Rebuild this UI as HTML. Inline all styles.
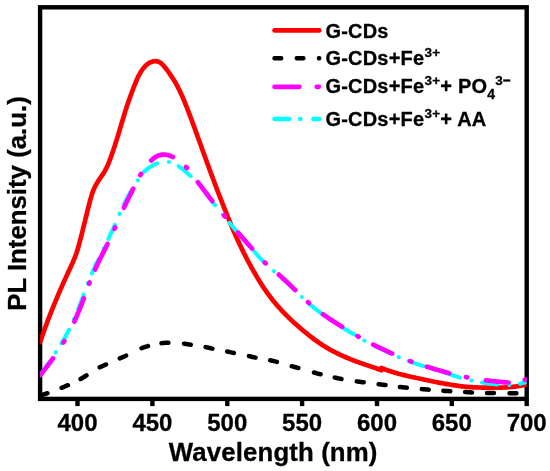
<!DOCTYPE html>
<html><head><meta charset="utf-8"><title>PL spectra</title>
<style>
html,body{margin:0;padding:0;background:#fff;}
body{width:550px;height:471px;overflow:hidden;}
svg{display:block;}
text{font-family:"Liberation Sans",Arial,sans-serif;font-weight:bold;fill:#000;stroke:#000;stroke-width:0.3;}
</style></head><body>
<svg width="550" height="471" viewBox="0 0 550 471">
<defs><clipPath id="plot"><rect x="40.1" y="7.3" width="486.6" height="391.59999999999997"/></clipPath></defs>
<rect width="550" height="471" fill="#fff"/>
<g stroke="#000" stroke-width="4.4" fill="none">
<rect x="40.1" y="7.3" width="486.6" height="391.59999999999997"/>
<line x1="77.5" y1="398.9" x2="77.5" y2="406.1"/>
<line x1="152.4" y1="398.9" x2="152.4" y2="406.1"/>
<line x1="227.3" y1="398.9" x2="227.3" y2="406.1"/>
<line x1="302.1" y1="398.9" x2="302.1" y2="406.1"/>
<line x1="377.0" y1="398.9" x2="377.0" y2="406.1"/>
<line x1="451.8" y1="398.9" x2="451.8" y2="406.1"/>
<line x1="526.7" y1="398.9" x2="526.7" y2="406.1"/>
</g>
<g fill="none" stroke-linecap="round" stroke-linejoin="round" clip-path="url(#plot)">
<path d="M40.2,342.0L40.6,340.9L41.0,339.7L41.4,338.6L41.8,337.5L42.1,336.3L42.5,335.2L42.9,334.1L43.3,332.9L43.7,331.8L44.1,330.7L44.5,329.5L44.9,328.4L45.3,327.3L45.7,326.1L46.2,325.0L46.6,323.9L47.0,322.8L47.4,321.6L47.8,320.5L48.2,319.4L48.7,318.3L49.1,317.2L49.5,316.0L50.0,314.9L50.4,313.8L50.9,312.7L51.3,311.6L51.7,310.5L52.2,309.3L52.6,308.2L53.1,307.1L53.6,306.0L54.0,304.9L54.5,303.8L54.9,302.7L55.4,301.6L55.8,300.5L56.3,299.4L56.8,298.3L57.2,297.2L57.7,296.0L58.2,294.9L58.6,293.8L59.1,292.7L59.6,291.6L60.1,290.5L60.5,289.4L61.0,288.3L61.5,287.2L62.0,286.1L62.5,285.0L62.9,283.9L63.4,282.8L63.9,281.7L64.4,280.6L64.9,279.5L65.4,278.5L65.9,277.4L66.4,276.3L66.9,275.2L67.4,274.1L67.9,273.0L68.4,271.9L68.9,270.8L69.4,269.7L69.9,268.6L70.4,267.6L70.9,266.5L71.4,265.4L71.9,264.3L72.4,263.2L72.9,262.1L73.4,261.0L73.8,259.9L74.3,258.8L74.8,257.7L75.2,256.6L75.6,255.4L76.0,254.3L76.4,253.2L76.8,252.0L77.2,250.9L77.5,249.8L77.9,248.6L78.2,247.5L78.5,246.3L78.9,245.1L79.2,244.0L79.5,242.8L79.8,241.7L80.1,240.5L80.4,239.3L80.7,238.2L81.0,237.0L81.3,235.9L81.6,234.7L81.9,233.5L82.2,232.4L82.5,231.2L82.7,230.0L83.0,228.9L83.3,227.7L83.6,226.6L83.9,225.4L84.2,224.2L84.5,223.1L84.8,221.9L85.1,220.7L85.3,219.6L85.6,218.4L85.9,217.2L86.2,216.1L86.5,214.9L86.8,213.7L87.1,212.6L87.3,211.4L87.6,210.2L87.9,209.1L88.2,207.9L88.5,206.7L88.8,205.6L89.1,204.4L89.4,203.3L89.7,202.1L90.0,200.9L90.3,199.8L90.6,198.6L91.0,197.5L91.3,196.3L91.7,195.2L92.0,194.0L92.4,192.9L92.8,191.8L93.2,190.7L93.7,189.5L94.2,188.4L94.7,187.3L95.2,186.3L95.8,185.2L96.3,184.2L97.0,183.1L97.6,182.1L98.2,181.1L98.9,180.1L99.5,179.1L100.2,178.1L100.9,177.1L101.5,176.1L102.2,175.1L102.9,174.1L103.5,173.1L104.2,172.1L104.8,171.1L105.4,170.0L105.9,168.9L106.5,167.9L107.0,166.8L107.5,165.7L108.0,164.6L108.4,163.5L108.9,162.4L109.3,161.3L109.7,160.1L110.2,159.0L110.6,157.9L111.0,156.8L111.4,155.6L111.8,154.5L112.2,153.4L112.6,152.2L113.0,151.1L113.4,150.0L113.7,148.8L114.1,147.7L114.5,146.6L114.9,145.4L115.2,144.3L115.6,143.1L116.0,142.0L116.3,140.8L116.7,139.7L117.0,138.6L117.4,137.4L117.8,136.3L118.1,135.1L118.5,134.0L118.8,132.8L119.1,131.7L119.5,130.5L119.8,129.4L120.2,128.2L120.5,127.1L120.9,125.9L121.2,124.8L121.5,123.6L121.9,122.5L122.2,121.3L122.6,120.2L122.9,119.0L123.3,117.9L123.6,116.7L124.0,115.6L124.3,114.4L124.7,113.3L125.0,112.1L125.4,111.0L125.7,109.8L126.1,108.7L126.5,107.6L126.8,106.4L127.2,105.3L127.6,104.1L128.0,103.0L128.4,101.9L128.8,100.7L129.2,99.6L129.6,98.5L130.0,97.4L130.4,96.2L130.8,95.1L131.2,94.0L131.6,92.9L132.1,91.7L132.5,90.6L132.9,89.5L133.3,88.4L133.8,87.2L134.2,86.1L134.6,85.0L135.1,83.9L135.5,82.8L136.0,81.7L136.4,80.6L136.9,79.5L137.4,78.4L137.9,77.3L138.4,76.2L139.0,75.1L139.6,74.1L140.2,73.0L140.8,72.0L141.4,71.0L142.1,70.0L142.8,69.0L143.5,68.1L144.3,67.2L145.1,66.3L146.0,65.4L146.8,64.6L147.8,63.9L148.8,63.2L149.8,62.6L150.9,62.1L152.0,61.7L153.2,61.4L154.4,61.2L155.6,61.2L156.8,61.3L157.9,61.6L159.1,62.0L160.1,62.6L161.1,63.3L162.0,64.1L162.8,64.9L163.7,65.8L164.4,66.7L165.2,67.6L165.9,68.6L166.7,69.5L167.4,70.5L168.1,71.5L168.8,72.4L169.4,73.4L170.1,74.4L170.8,75.4L171.5,76.4L172.1,77.4L172.8,78.4L173.4,79.4L174.1,80.4L174.7,81.5L175.3,82.5L175.9,83.5L176.5,84.6L177.1,85.6L177.6,86.7L178.2,87.8L178.7,88.8L179.3,89.9L179.8,91.0L180.3,92.1L180.8,93.2L181.3,94.3L181.8,95.3L182.3,96.4L182.7,97.5L183.2,98.6L183.7,99.7L184.2,100.8L184.6,102.0L185.1,103.1L185.5,104.2L186.0,105.3L186.4,106.4L186.9,107.5L187.3,108.6L187.8,109.7L188.2,110.9L188.6,112.0L189.0,113.1L189.5,114.2L189.9,115.4L190.3,116.5L190.7,117.6L191.2,118.7L191.6,119.8L192.0,121.0L192.4,122.1L192.8,123.2L193.2,124.4L193.6,125.5L194.1,126.6L194.5,127.7L194.9,128.9L195.3,130.0L195.7,131.1L196.1,132.2L196.5,133.4L196.9,134.5L197.3,135.6L197.7,136.8L198.1,137.9L198.5,139.0L198.9,140.1L199.4,141.3L199.8,142.4L200.2,143.5L200.6,144.7L201.0,145.8L201.4,146.9L201.8,148.0L202.2,149.2L202.6,150.3L203.0,151.4L203.4,152.6L203.8,153.7L204.2,154.8L204.7,155.9L205.1,157.1L205.5,158.2L205.9,159.3L206.3,160.4L206.7,161.6L207.1,162.7L207.5,163.8L207.9,165.0L208.4,166.1L208.8,167.2L209.2,168.3L209.6,169.5L210.0,170.6L210.4,171.7L210.8,172.8L211.3,174.0L211.7,175.1L212.1,176.2L212.5,177.3L212.9,178.5L213.3,179.6L213.8,180.7L214.2,181.8L214.6,183.0L215.0,184.1L215.4,185.2L215.9,186.3L216.3,187.4L216.7,188.6L217.1,189.7L217.6,190.8L218.0,191.9L218.4,193.1L218.9,194.2L219.3,195.3L219.7,196.4L220.1,197.5L220.6,198.7L221.0,199.8L221.5,200.9L221.9,202.0L222.3,203.1L222.8,204.2L223.2,205.4L223.6,206.5L224.1,207.6L224.5,208.7L225.0,209.8L225.4,210.9L225.9,212.0L226.3,213.2L226.8,214.3L227.2,215.4L227.7,216.5L228.1,217.6L228.6,218.7L229.0,219.8L229.5,220.9L229.9,222.0L230.4,223.2L230.9,224.3L231.3,225.4L231.8,226.5L232.2,227.6L232.7,228.7L233.2,229.8L233.6,230.9L234.1,232.0L234.6,233.1L235.1,234.2L235.6,235.3L236.0,236.4L236.5,237.5L237.0,238.6L237.5,239.7L238.0,240.8L238.5,241.9L239.0,242.9L239.5,244.0L240.0,245.1L240.6,246.2L241.1,247.3L241.6,248.4L242.1,249.4L242.6,250.5L243.2,251.6L243.7,252.7L244.2,253.7L244.8,254.8L245.3,255.9L245.9,257.0L246.4,258.0L247.0,259.1L247.5,260.2L248.1,261.2L248.7,262.3L249.2,263.3L249.8,264.4L250.4,265.4L250.9,266.5L251.5,267.5L252.1,268.6L252.7,269.6L253.3,270.7L253.9,271.7L254.5,272.8L255.1,273.8L255.7,274.8L256.3,275.9L256.9,276.9L257.5,277.9L258.1,279.0L258.8,280.0L259.4,281.0L260.0,282.0L260.6,283.0L261.3,284.1L261.9,285.1L262.6,286.1L263.2,287.1L263.9,288.1L264.6,289.1L265.3,290.1L266.0,291.0L266.6,292.0L267.3,293.0L268.0,294.0L268.8,294.9L269.5,295.9L270.2,296.9L270.9,297.8L271.7,298.8L272.4,299.7L273.1,300.6L273.9,301.6L274.7,302.5L275.4,303.4L276.2,304.3L277.0,305.3L277.8,306.2L278.6,307.1L279.4,307.9L280.2,308.8L281.0,309.7L281.8,310.6L282.6,311.5L283.5,312.3L284.3,313.2L285.1,314.0L286.0,314.9L286.8,315.7L287.7,316.6L288.5,317.4L289.4,318.3L290.3,319.1L291.1,319.9L292.0,320.7L292.9,321.6L293.8,322.4L294.7,323.2L295.6,324.0L296.5,324.8L297.4,325.6L298.3,326.4L299.2,327.1L300.1,327.9L301.0,328.7L301.9,329.5L302.8,330.3L303.7,331.0L304.7,331.8L305.6,332.5L306.5,333.3L307.5,334.0L308.4,334.8L309.3,335.5L310.3,336.3L311.2,337.0L312.2,337.7L313.1,338.5L314.1,339.2L315.1,339.9L316.0,340.6L317.0,341.3L318.0,342.0L319.0,342.7L320.0,343.4L321.0,344.0L322.0,344.7L323.0,345.4L324.0,346.0L325.0,346.6L326.0,347.3L327.0,347.9L328.1,348.5L329.1,349.1L330.2,349.7L331.2,350.3L332.3,350.8L333.3,351.4L334.4,351.9L335.5,352.5L336.5,353.0L337.6,353.5L338.7,354.0L339.8,354.6L340.9,355.1L342.0,355.6L343.1,356.1L344.2,356.5L345.3,357.0L346.4,357.5L347.5,358.0L348.6,358.4L349.7,358.9L350.8,359.4L351.9,359.8L353.0,360.2L354.1,360.7L355.3,361.1L356.4,361.5L357.5,361.9L358.6,362.3L359.8,362.7L360.9,363.1L362.0,363.5L363.2,363.9L364.3,364.3L365.4,364.7L366.6,365.0L367.7,365.4L368.9,365.8L370.0,366.2L371.1,366.6L372.3,367.0L373.4,367.3L374.5,367.7L375.7,368.1L376.8,368.5L377.9,369.0L379.0,369.4L380.2,369.8L381.3,370.2M381.3,368.0L382.4,368.4L383.5,368.8L384.7,369.3L385.8,369.7L386.9,370.1L388.0,370.5L389.1,370.9L390.3,371.2L391.4,371.6L392.5,372.0L393.7,372.3L394.8,372.7L396.0,373.0L397.1,373.3L398.3,373.7L399.4,374.0L400.6,374.3L401.7,374.6L402.9,374.9L404.0,375.1L405.2,375.4L406.4,375.7L407.5,376.0L408.7,376.2L409.8,376.5L411.0,376.8L412.2,377.0L413.3,377.3L414.5,377.5L415.7,377.8L416.8,378.0L418.0,378.3L419.2,378.5L420.3,378.8L421.5,379.0L422.7,379.3L423.8,379.5L425.0,379.8L426.2,380.0L427.3,380.3L428.5,380.5L429.7,380.8L430.8,381.0L432.0,381.3L433.2,381.5L434.3,381.7L435.5,382.0L436.7,382.2L437.8,382.4L439.0,382.7L440.2,382.9L441.4,383.1L442.5,383.3L443.7,383.5L444.9,383.7L446.1,383.9L447.2,384.1L448.4,384.3L449.6,384.5L450.8,384.7L451.9,384.9L453.1,385.1L454.3,385.3L455.5,385.4L456.7,385.6L457.8,385.8L459.0,386.0L460.2,386.1L461.4,386.3L462.6,386.4L463.7,386.5L464.9,386.7L466.1,386.8L467.3,386.9L468.5,387.0L469.7,387.1L470.9,387.1L472.1,387.2L473.3,387.3L474.4,387.3L475.6,387.4L476.8,387.4L478.0,387.5L479.2,387.5L480.4,387.5L481.6,387.6L482.8,387.6L484.0,387.6L485.2,387.6L486.4,387.7L487.6,387.7L488.8,387.7L489.9,387.7L491.1,387.7L492.3,387.7L493.5,387.7L494.7,387.7L495.9,387.7L497.1,387.7L498.3,387.7L499.5,387.7L500.7,387.6L501.9,387.6L503.1,387.5L504.3,387.5L505.4,387.4L506.6,387.3L507.8,387.3L509.0,387.2L510.2,387.1L511.4,387.0L512.6,386.9L513.8,386.7L514.9,386.6L516.1,386.5L517.3,386.3L518.5,386.1L519.7,385.9L520.8,385.7L522.0,385.5L523.2,385.3L524.4,385.1L525.5,384.8L526.7,384.6" stroke="#ff0000" stroke-width="4.7"/>
<path d="M40.2,395.6L41.1,395.3L42.0,395.0L42.9,394.7L43.8,394.4L44.7,394.1L45.6,393.8L46.5,393.5L47.4,393.2M61.6,387.8L62.5,387.5L63.4,387.1L64.3,386.7L65.2,386.3L66.1,385.9L67.0,385.5L67.9,385.2M80.6,379.0L81.4,378.5L82.3,378.0L83.1,377.5L84.0,377.0L84.8,376.5L85.6,376.0L86.5,375.4M99.7,367.3L100.6,366.9L101.5,366.5L102.4,366.1L103.3,365.7L104.2,365.3L105.1,364.9L106.0,364.5M119.8,358.4L120.7,358.0L121.6,357.6L122.5,357.2L123.4,356.9L124.3,356.5L125.2,356.1L126.1,355.6M141.5,348.2L142.4,347.8L143.3,347.5L144.3,347.2L145.2,346.9L146.1,346.6L147.1,346.3L148.0,346.0M161.5,343.2L162.5,343.1L163.5,343.0L164.5,342.9L165.4,342.8L166.4,342.8L167.4,342.7L168.4,342.7M184.0,343.7L185.0,343.8L186.0,344.0L187.0,344.1L187.9,344.3L188.9,344.5L189.9,344.6L190.8,344.8M205.6,347.1L206.6,347.3L207.5,347.5L208.5,347.7L209.5,347.9L210.4,348.2L211.4,348.4L212.4,348.6M227.2,351.5L228.2,351.7L229.1,351.9L230.1,352.1L231.0,352.4L232.0,352.6L233.0,352.8L233.9,353.0M248.9,356.1L249.9,356.3L250.8,356.5L251.8,356.8L252.7,357.0L253.7,357.2L254.7,357.4L255.6,357.6M270.2,360.3L271.2,360.5L272.1,360.7L273.1,360.9L274.1,361.1L275.0,361.4L276.0,361.6L276.9,361.9M291.7,366.2L292.6,366.4L293.6,366.7L294.5,367.0L295.5,367.2L296.4,367.5L297.4,367.7L298.3,368.0M314.0,372.5L314.9,372.8L315.9,373.0L316.8,373.3L317.8,373.6L318.7,373.8L319.7,374.1L320.6,374.3M334.7,377.6L335.7,377.8L336.6,378.0L337.6,378.2L338.6,378.4L339.5,378.6L340.5,378.8L341.5,379.0M356.8,381.4L357.8,381.6L358.8,381.7L359.8,381.8L360.7,381.9L361.7,382.1L362.7,382.2L363.7,382.3M378.6,384.2L379.6,384.3L380.6,384.4L381.6,384.6L382.5,384.7L383.5,384.8L384.5,385.0L385.5,385.1M399.9,387.0L400.9,387.1L401.9,387.2L402.9,387.3L403.9,387.4L404.8,387.5L405.8,387.6L406.8,387.7M421.8,389.1L422.8,389.2L423.8,389.2L424.8,389.3L425.8,389.4L426.8,389.5L427.7,389.6L428.7,389.7M443.4,390.8L444.4,390.9L445.4,390.9L446.4,391.0L447.4,391.1L448.4,391.1L449.3,391.2L450.3,391.3M465.1,392.1L466.1,392.1L467.1,392.2L468.1,392.2L469.1,392.3L470.1,392.3L471.1,392.4L472.0,392.4M487.0,392.9L488.0,392.9L489.0,392.9L490.0,393.0L491.0,393.0L492.0,393.0L493.0,393.0L493.9,393.0M509.5,393.2L510.5,393.2L511.5,393.2L512.5,393.2L513.5,393.2L514.5,393.3L515.5,393.3L516.4,393.3" stroke="#000" stroke-width="4.5"/>
<path d="M40.3,375.1L40.8,374.3L41.4,373.5L41.9,372.7L42.5,371.9L43.0,371.1L43.6,370.3L44.1,369.5L44.7,368.7L45.2,367.9L45.7,367.1L46.3,366.3L46.8,365.5L47.4,364.7L47.9,363.9L48.5,363.1L49.0,362.3M55.6,352.4L55.6,352.3L55.7,352.2M61.4,343.3L61.9,342.5L62.4,341.7L62.9,340.8L63.4,340.0L63.9,339.2L64.4,338.3L64.9,337.5L65.4,336.6L65.8,335.8L66.3,334.9L66.7,334.1L67.2,333.2L67.7,332.4L68.1,331.5L68.5,330.7L69.0,329.8M74.0,319.0L74.1,318.8M78.2,309.0L78.5,308.1L78.9,307.3L79.3,306.4L79.6,305.5L80.0,304.5L80.3,303.6L80.7,302.7L81.0,301.8L81.4,300.9L81.7,300.0L82.1,299.1L82.4,298.2L82.7,297.3L83.1,296.4L83.4,295.5L83.7,294.6M87.8,283.4L87.9,283.2M91.8,273.4L92.2,272.5L92.6,271.6L93.0,270.7L93.4,269.8L93.8,268.9L94.2,268.1L94.6,267.2L95.0,266.3L95.4,265.4L95.8,264.6L96.3,263.7L96.7,262.8L97.1,261.9L97.5,261.1L98.0,260.2L98.4,259.3M103.7,248.7L103.8,248.5M108.4,238.9L108.8,238.1L109.2,237.2L109.6,236.3L110.0,235.4L110.4,234.5L110.8,233.7L111.2,232.8L111.6,231.9L112.0,231.0L112.4,230.1L112.8,229.3L113.2,228.4L113.6,227.5L114.0,226.6L114.4,225.7L114.8,224.8M119.5,213.9L119.6,213.7M124.0,204.1L124.5,203.2L124.9,202.4L125.3,201.5L125.7,200.6L126.2,199.8L126.6,198.9L127.1,198.0L127.5,197.2L128.0,196.3L128.4,195.5L128.9,194.6L129.4,193.8L129.9,192.9L130.4,192.1L130.9,191.3L131.4,190.5M137.8,180.4L137.9,180.3M144.1,171.7L144.8,171.0L145.5,170.4L146.3,169.7L147.0,169.1L147.8,168.5L148.5,167.9L149.3,167.4L150.2,166.9L151.0,166.4L151.8,165.9L152.7,165.4L153.5,165.0L154.4,164.5L155.3,164.2L156.2,163.8L157.1,163.4M168.8,161.9L168.9,161.9L169.0,161.9M178.6,166.2L179.4,166.8L180.1,167.3L180.9,167.9L181.7,168.5L182.4,169.1L183.2,169.7L184.0,170.3L184.7,171.0L185.4,171.6L186.2,172.2L186.9,172.8L187.7,173.5L188.4,174.1L189.1,174.7L189.8,175.4L190.6,176.0M198.9,184.5L199.0,184.5L199.1,184.6M205.7,192.9L206.3,193.7L206.8,194.4L207.4,195.2L208.0,196.0L208.6,196.8L209.2,197.5L209.8,198.3L210.4,199.1L211.0,199.8L211.6,200.6L212.1,201.4L212.7,202.1L213.3,202.9L213.9,203.7L214.5,204.4L215.1,205.2M222.7,214.4L222.7,214.5L222.8,214.5M229.5,222.8L230.1,223.5L230.7,224.3L231.3,225.0L231.9,225.8L232.6,226.5L233.2,227.3L233.8,228.0L234.4,228.8L235.0,229.5L235.6,230.2L236.3,231.0L236.9,231.7L237.5,232.5L238.1,233.2L238.8,233.9L239.4,234.7M247.2,243.6L247.3,243.7L247.4,243.8M254.4,251.7L255.0,252.4L255.7,253.2L256.3,253.9L257.0,254.6L257.6,255.4L258.2,256.1L258.9,256.8L259.5,257.5L260.2,258.2L260.8,259.0L261.5,259.7L262.2,260.4L262.8,261.1L263.5,261.8L264.2,262.4L264.9,263.1M273.9,270.9L273.9,271.0L274.0,271.1M282.0,278.0L282.7,278.7L283.4,279.3L284.2,280.0L284.9,280.6L285.6,281.3L286.3,282.0L287.0,282.6L287.7,283.3L288.4,284.0L289.1,284.6L289.8,285.3L290.5,286.0L291.2,286.6L291.9,287.3L292.6,288.0L293.3,288.7M301.8,297.0L301.9,297.0L301.9,297.1M309.8,304.3L310.5,304.9L311.2,305.5L312.0,306.1L312.7,306.8L313.5,307.4L314.2,308.0L315.0,308.6L315.7,309.2L316.5,309.8L317.3,310.4L318.0,311.0L318.8,311.6L319.6,312.2L320.3,312.7L321.1,313.3L321.9,313.9M331.7,320.7L331.8,320.7L331.8,320.8M340.8,326.5L341.6,327.0L342.4,327.5L343.2,328.0L344.1,328.5L344.9,329.0L345.7,329.5L346.5,330.0L347.4,330.5L348.2,331.1L349.0,331.6L349.9,332.1L350.7,332.6L351.5,333.1L352.4,333.5L353.2,334.0L354.0,334.5M364.3,340.5L364.4,340.5L364.5,340.6M373.9,345.5L374.8,345.9L375.6,346.3L376.5,346.7L377.4,347.2L378.3,347.6L379.1,348.0L380.0,348.4L380.9,348.8L381.8,349.2L382.7,349.6L383.5,350.0L384.4,350.5L385.3,350.9L386.2,351.3L387.0,351.7L387.9,352.1M398.7,357.1L398.8,357.2L398.9,357.2M408.7,361.1L409.6,361.5L410.6,361.8L411.5,362.1L412.4,362.4L413.3,362.8L414.2,363.1L415.1,363.4L416.0,363.7L417.0,364.0L417.9,364.3L418.8,364.6L419.7,364.9L420.6,365.2L421.6,365.5L422.5,365.8L423.4,366.1M434.8,369.6L434.9,369.6L435.0,369.6M445.1,372.7L446.0,373.0L447.0,373.3L447.9,373.6L448.8,373.9L449.7,374.2L450.6,374.5L451.6,374.8L452.5,375.2L453.4,375.5L454.3,375.8L455.2,376.1L456.2,376.4L457.1,376.7L458.0,377.0L458.9,377.3L459.8,377.6M471.4,380.6L471.5,380.6L471.6,380.6M482.0,382.5L482.9,382.6L483.9,382.8L484.9,382.9L485.8,383.1L486.8,383.2L487.7,383.3L488.7,383.5L489.7,383.6L490.6,383.7L491.6,383.9L492.5,384.0L493.5,384.1L494.5,384.2L495.4,384.3L496.4,384.4L497.3,384.5M509.2,385.0L509.3,385.0L509.4,385.0M519.9,383.7L520.9,383.5L521.9,383.2L522.8,383.0L523.8,382.8L524.8,382.5L525.7,382.3L526.7,382.0" stroke="#00ffff" stroke-width="4.0"/>
<path d="M40.2,375.2L40.8,374.5L41.4,373.7L42.0,373.0L42.6,372.2L43.2,371.4L43.8,370.7L44.4,369.9L45.0,369.2L45.6,368.4L46.1,367.7L46.7,366.9L47.3,366.1L47.9,365.4L48.5,364.6L49.0,363.8L49.6,363.0L50.2,362.3L50.7,361.5L51.3,360.7L51.8,359.9L52.4,359.1L53.0,358.4M74.4,321.5L74.8,320.6L75.2,319.7L75.6,318.8L76.0,317.8L76.4,316.9L76.8,316.0L77.2,315.1L77.5,314.2L77.9,313.3L78.3,312.4L78.7,311.4L79.1,310.5L79.5,309.6L79.8,308.7L80.2,307.8L80.6,306.8L80.9,305.9L81.3,305.0L81.7,304.1L82.0,303.2L82.4,302.2L82.7,301.3L83.1,300.4L83.4,299.4L83.8,298.5M95.1,269.5L95.5,268.6L95.9,267.7L96.3,266.8L96.7,265.9L97.1,265.0L97.5,264.2L98.0,263.3L98.4,262.4L98.8,261.5L99.2,260.6L99.7,259.7L100.1,258.9L100.5,258.0L101.0,257.1L101.4,256.2L101.9,255.4L102.3,254.5L102.7,253.6L103.2,252.7L103.6,251.9L104.0,251.0L104.5,250.1L104.9,249.2L105.3,248.3L105.8,247.5L106.2,246.6L106.6,245.7L107.1,244.8L107.5,243.9M123.9,207.7L124.3,206.9L124.7,206.0L125.1,205.1L125.6,204.3L126.0,203.4L126.4,202.5L126.8,201.7L127.3,200.8L127.7,199.9L128.1,199.1L128.5,198.2L129.0,197.3L129.4,196.5L129.8,195.6L130.3,194.8L130.7,193.9L131.1,193.0L131.6,192.2L132.0,191.3L132.4,190.4L132.8,189.6L133.3,188.7M151.2,160.5L151.9,159.8L152.7,159.2L153.4,158.5L154.2,157.9L155.0,157.4L155.9,156.8L156.7,156.3L157.6,155.9L158.5,155.5L159.5,155.2L160.4,154.9L161.4,154.8L162.4,154.6L163.4,154.6L164.4,154.6L165.4,154.6L166.4,154.8L167.3,155.0L168.3,155.2L169.3,155.5L170.2,155.8L171.1,156.2L172.0,156.6L172.9,157.0M197.9,182.2L198.5,183.0L199.1,183.8L199.7,184.6L200.3,185.4L200.9,186.1L201.5,186.9L202.1,187.7L202.7,188.5L203.3,189.3L203.9,190.1L204.5,190.8L205.1,191.6L205.7,192.4L206.3,193.2L206.9,194.0L207.5,194.8L208.1,195.5L208.6,196.3L209.2,197.1L209.8,197.9L210.4,198.7L211.0,199.5L211.6,200.2L212.2,201.0M238.0,232.6L238.6,233.3L239.3,234.0L239.9,234.8L240.5,235.5L241.2,236.2L241.8,237.0L242.4,237.7L243.1,238.4L243.7,239.2L244.3,239.9L245.0,240.6L245.6,241.3L246.3,242.1L246.9,242.8L247.5,243.5L248.2,244.2L248.8,245.0L249.5,245.7L250.1,246.4L250.8,247.1L251.4,247.8L252.0,248.6M278.8,274.6L279.5,275.3L280.3,275.9L281.0,276.6L281.7,277.3L282.5,277.9L283.2,278.6L283.9,279.3L284.6,279.9L285.4,280.6L286.1,281.3L286.8,281.9L287.5,282.6L288.2,283.3L289.0,284.0L289.7,284.7L290.4,285.4L291.1,286.1L291.8,286.7L292.5,287.4L293.2,288.1L293.9,288.8L294.6,289.5L295.3,290.2M323.1,314.3L323.9,314.9L324.7,315.4L325.5,316.0L326.3,316.6L327.1,317.1L328.0,317.7L328.8,318.2L329.6,318.8L330.4,319.4L331.2,319.9L332.1,320.4L332.9,321.0L333.7,321.5L334.6,322.1L335.4,322.6L336.2,323.1L337.1,323.7L337.9,324.2L338.7,324.7L339.6,325.3L340.4,325.8L341.3,326.3L342.1,326.8M373.1,344.6L374.0,345.0L374.8,345.4L375.7,345.8L376.5,346.3L377.4,346.7L378.3,347.1L379.1,347.5L380.0,347.9L380.9,348.3L381.7,348.7L382.6,349.1L383.4,349.5L384.3,349.9L385.2,350.3L386.0,350.7L386.9,351.1L387.8,351.6L388.6,352.0L389.5,352.4L390.3,352.8L391.2,353.2L392.1,353.6M426.9,366.7L427.9,367.0L428.8,367.3L429.7,367.5L430.6,367.8L431.6,368.1L432.5,368.4L433.4,368.7L434.3,368.9L435.2,369.2L436.2,369.5L437.1,369.8L438.0,370.0L438.9,370.3L439.9,370.6L440.8,370.8L441.7,371.1L442.6,371.4L443.6,371.6L444.5,371.9L445.4,372.2L446.3,372.4L447.3,372.7L448.2,373.0L449.1,373.2M485.9,380.3L486.9,380.4L487.9,380.6L488.9,380.7L489.9,380.8L490.8,380.9L491.8,381.0L492.8,381.1L493.8,381.2L494.8,381.3L495.8,381.4L496.7,381.5L497.7,381.6L498.7,381.7L499.7,381.8L500.7,381.9L501.6,382.0L502.6,382.1L503.6,382.2L504.6,382.3L505.6,382.3L506.6,382.4L507.6,382.5L508.6,382.5M63.5,342.4L63.8,342.0L64.0,341.6L64.3,341.2M89.2,283.8L89.3,283.4L89.5,282.9L89.6,282.5M114.5,228.8L114.8,228.2L115.1,227.5M140.3,175.1L140.7,174.5L141.1,173.9M186.0,167.0L186.5,167.5L187.0,168.0M224.1,215.5L224.5,216.1L224.9,216.6M264.7,262.4L265.2,262.9L265.7,263.4M308.0,302.2L308.5,302.6L309.0,303.1M357.5,336.1L357.9,336.3L358.3,336.6L358.7,336.8M410.0,361.1L410.5,361.3L410.9,361.4L411.4,361.6M465.9,377.1L466.4,377.2L466.8,377.3L467.3,377.3M524.8,379.7L525.3,379.5L525.7,379.4L526.2,379.2" stroke="#ff00ff" stroke-width="4.7"/>
</g>
<g font-size="24">
<text x="77.5" y="431.2" text-anchor="middle">400</text>
<text x="152.4" y="431.2" text-anchor="middle">450</text>
<text x="227.3" y="431.2" text-anchor="middle">500</text>
<text x="302.1" y="431.2" text-anchor="middle">550</text>
<text x="377.0" y="431.2" text-anchor="middle">600</text>
<text x="451.8" y="431.2" text-anchor="middle">650</text>
<text x="526.7" y="431.2" text-anchor="middle">700</text>
</g>
<text x="273.2" y="460.5" text-anchor="middle" font-size="25.8" letter-spacing="0.12">Wavelength (nm)</text>
<text transform="translate(26.4,203.5) rotate(-90)" text-anchor="middle" font-size="25.8">PL Intensity (a.u.)</text>
<g fill="none" stroke-linecap="round">
<line x1="274.6" y1="30.4" x2="319.2" y2="30.4" stroke="#ff0000" stroke-width="4.8"/>
<line x1="274.5" y1="58.3" x2="319.3" y2="58.3" stroke="#000" stroke-width="4.5" stroke-dasharray="6.7 15.5"/>
<line x1="274.6" y1="86.8" x2="318.8" y2="86.8" stroke="#ff00ff" stroke-width="4.8" stroke-dasharray="24.7 17.5 2 17"/>
<line x1="274.5" y1="119.1" x2="319.3" y2="119.1" stroke="#00ffff" stroke-width="4.5" stroke-dasharray="14.5 11.2 0.1 13 10 10"/>
</g>
<g font-size="20" letter-spacing="0.22">
<text x="325.4" y="37.6">G-CDs</text>
<text x="325.4" y="65.3">G-CDs+Fe<tspan dy="-8" font-size="13.5">3+</tspan></text>
<text x="325.4" y="93.3">G-CDs+Fe<tspan dy="-8" font-size="13.5">3+</tspan><tspan dy="8">+ PO</tspan><tspan dy="5.5" font-size="14">4</tspan><tspan dy="-14" font-size="13.5">3−</tspan></text>
<text x="325.4" y="125.9">G-CDs+Fe<tspan dy="-8" font-size="13.5">3+</tspan><tspan dy="8">+ AA</tspan></text>
</g>
</svg>
</body></html>
